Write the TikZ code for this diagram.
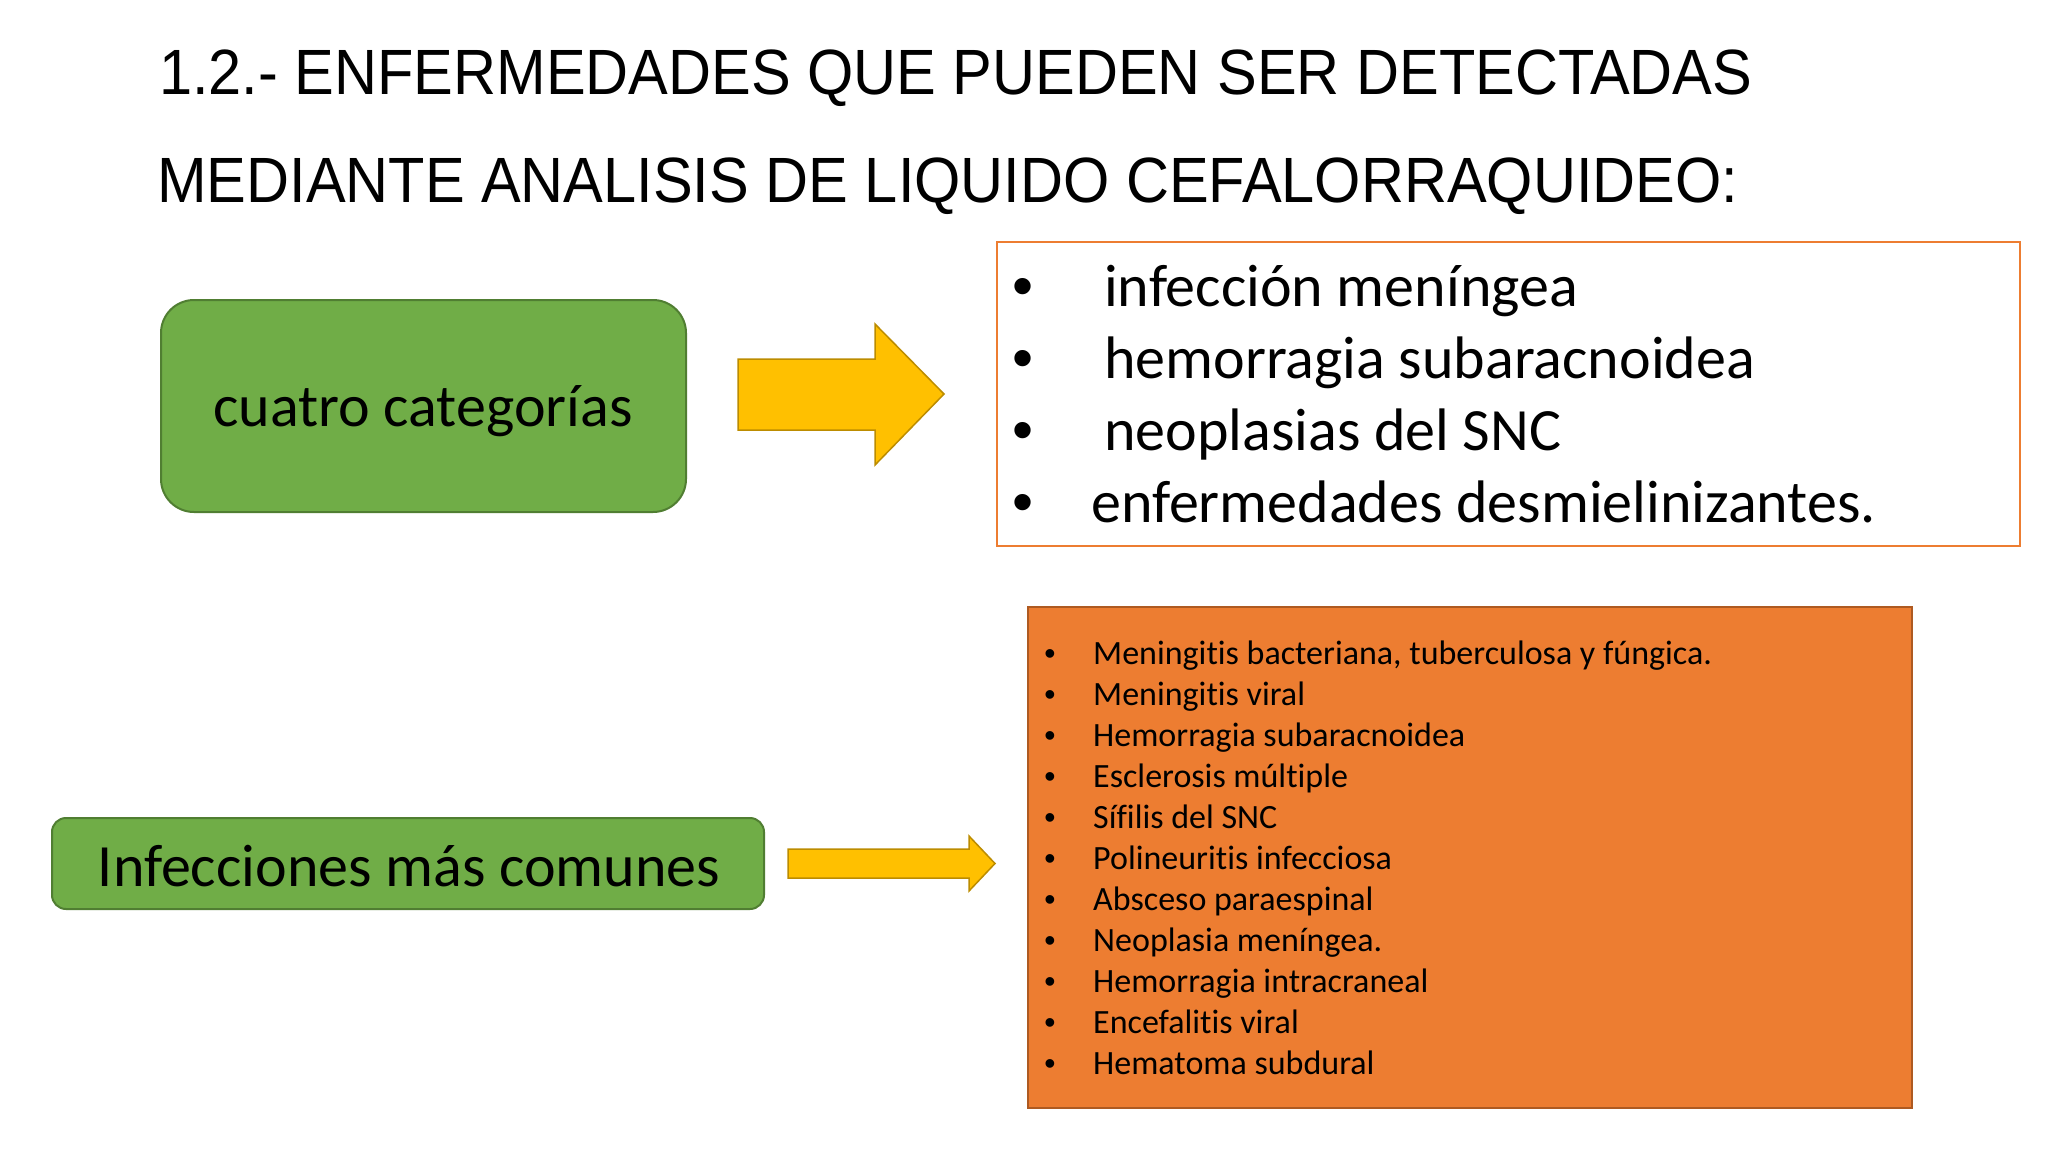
\documentclass[tikz,border=0pt]{standalone}
\usepackage{graphicx}
\usepackage{fontspec}
\setmainfont{Carlito}[Ligatures=NoCommon]
\newfontfamily\arialf{Liberation Sans}
\definecolor{grnfill}{HTML}{70AD47}
\definecolor{grnline}{HTML}{507E32}
\definecolor{yelfill}{HTML}{FFC000}
\definecolor{yelline}{HTML}{BC8C00}
\definecolor{orgfill}{HTML}{ED7D31}
\definecolor{orgline}{HTML}{AE5A21}
\begin{document}
\begin{tikzpicture}[x=1pt,y=-1pt,
  titletxt/.style={anchor=base west, inner sep=0pt, font=\arialf\fontsize{64}{64}\selectfont},
  gbox/.style={draw=grnline, line width=2pt, fill=grnfill, inner sep=0pt},
  blockarrow/.style={draw=yelline, line width=1.5pt, fill=yelfill, line join=miter},
  bigtxt/.style={anchor=base west, inner sep=0pt, font=\fontsize{60}{60}\selectfont},
  bigdot/.style={anchor=base, inner sep=0pt, font=\arialf\fontsize{60}{60}\selectfont},
  smalltxt/.style={anchor=base west, inner sep=0pt, font=\fontsize{34}{34}\selectfont},
  smalldot/.style={anchor=base, inner sep=0pt, font=\arialf\fontsize{32}{32}\selectfont}]
\useasboundingbox[fill=white] (0,0) rectangle (2048,1152);

% title
\node[titletxt] (t1) at (159,94) {\scalebox{0.93}[1]{1.2.- ENFERMEDADES QUE PUEDEN SER DETECTADAS}};
\node[titletxt] (t2) at (157,202) {\scalebox{0.93}[1]{MEDIANTE ANALISIS DE LIQUIDO CEFALORRAQUIDEO:}};

% first row
\node[gbox, rounded corners=33pt, minimum width=525pt, minimum height=212pt] (c1) at (423.5,406) {};
\node[anchor=base, inner sep=0pt, font=\fontsize{60}{60}\selectfont] (c1t) at (423,426) {cuatro categorías};

\node[draw=orgfill, line width=2pt, minimum width=1023pt, minimum height=304pt, inner sep=0pt] (b2) at (1508.5,394) {};

\path[blockarrow] (738,359) -- (875,359) -- (875,324) -- (944,394) -- (875,465) -- (875,430) -- (738,430) -- cycle;

\node[bigdot] (d1) at (1023,306) {•};
\node[bigtxt] (l1) at (1104,306) {infección meníngea};
\node[bigdot] (d2) at (1023,378) {•};
\node[bigtxt] (l2) at (1104,378) {hemorragia subaracnoidea};
\node[bigdot] (d3) at (1023,450) {•};
\node[bigtxt] (l3) at (1104,450) {neoplasias del SNC};
\node[bigdot] (d4) at (1023,522) {•};
\node[bigtxt] (l4) at (1091,522) {enfermedades desmielinizantes.};

% second row
\node[gbox, rounded corners=14pt, minimum width=712pt, minimum height=91pt] (c2) at (408,863.5) {};
\node[anchor=base, inner sep=0pt, font=\fontsize{60}{60}\selectfont] (c2t) at (409,886) {Infecciones más comunes};

\path[blockarrow] (788,849) -- (969,849) -- (969,836) -- (995,863.5) -- (969,891) -- (969,878) -- (788,878) -- cycle;

\node[draw=orgline, line width=2pt, fill=orgfill, minimum width=884pt, minimum height=501pt, inner sep=0pt] (b3) at (1470,857.5) {};

\foreach \i/\t in {0/{Meningitis bacteriana, tuberculosa y fúngica.},
                  1/{Meningitis viral},
                  2/{Hemorragia subaracnoidea},
                  3/{Esclerosis múltiple},
                  4/{Sífilis del SNC},
                  5/{Polineuritis infecciosa},
                  6/{Absceso paraespinal},
                  7/{Neoplasia meníngea.},
                  8/{Hemorragia intracraneal},
                  9/{Encefalitis viral},
                  10/{Hematoma subdural}}{
  \node[smalldot] (sd\i) at (1050,664+41*\i) {•};
  \node[smalltxt] (st\i) at (1093,664+41*\i) {\t};
}
\end{tikzpicture}
\end{document}
